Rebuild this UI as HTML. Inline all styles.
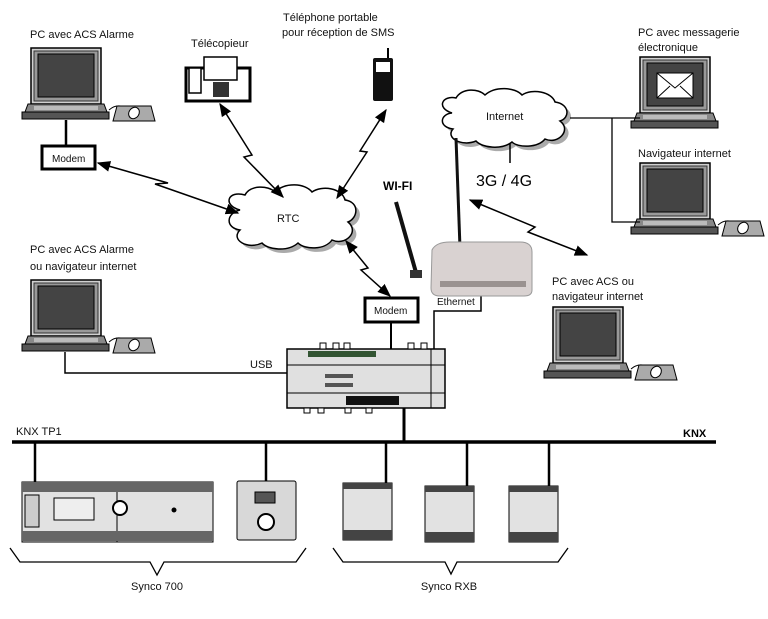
<!DOCTYPE html>
<html><head><meta charset="utf-8"><style>
html,body{margin:0;padding:0;background:#fff;}
svg{display:block;}
text{font-family:"Liberation Sans",sans-serif;font-size:11px;fill:#111;}
</style></head><body>
<svg width="768" height="619" viewBox="0 0 768 619" xmlns="http://www.w3.org/2000/svg">
<defs>
<marker id="ah" viewBox="0 0 10 10" refX="9" refY="5" markerWidth="9" markerHeight="9" orient="auto-start-reverse"><path d="M0,1 L10,5 L0,9 z" fill="#000"/></marker>
<g id="lap">
<rect x="0" y="0" width="70" height="56" fill="#d0d0d0" stroke="#000" stroke-width="1.5"/>
<rect x="3" y="3" width="64" height="50" fill="#999" stroke="#333"/>
<rect x="7" y="6" width="56" height="43" fill="#444" stroke="#000"/>
<polygon points="-3,56 73,56 76,64 -6,64" fill="#888" stroke="#000"/>
<rect x="-9" y="64" width="87" height="7" fill="#555" stroke="#000"/>
<rect x="3" y="58" width="64" height="4" fill="#bbb"/>
</g>
<g id="mouse">
<path d="M78,62 Q86,55 95,60" fill="none" stroke="#000"/>
<polygon points="86,58 120,58 124,73 82,73" fill="#aaa" stroke="#000"/>
<ellipse cx="103" cy="65" rx="5" ry="6" fill="#fff" stroke="#000" transform="rotate(35 103 65)"/>
</g>
<path id="cl1" d="M240,210 C222,205 228,190 245,195 C250,185 268,185 275,192 C285,182 305,183 312,192 C322,185 342,188 345,200 C360,202 358,218 348,222 C360,232 345,246 332,240 C325,250 305,250 298,243 C288,252 268,250 262,243 C248,250 230,240 240,230 C225,228 226,213 240,210 z"/>
<path id="cl2" d="M452,113 C436,108 442,95 456,98 C462,88 478,88 485,95 C495,86 515,87 522,95 C532,88 552,92 555,102 C570,104 570,118 560,121 C572,130 558,145 545,139 C538,148 518,148 512,142 C502,150 482,148 476,141 C462,147 445,138 453,129 C438,127 440,114 452,113 z"/>
</defs>

<text x="30" y="38">PC avec ACS Alarme</text>
<text x="191" y="47">Télécopieur</text>
<text x="283" y="21">Téléphone portable</text>
<text x="282" y="36">pour réception de SMS</text>
<text x="30" y="253">PC avec ACS Alarme</text>
<text x="30" y="270">ou navigateur internet</text>
<text x="552" y="285">PC avec ACS ou</text>
<text x="552" y="300">navigateur internet</text>
<text x="638" y="36">PC avec messagerie</text>
<text x="638" y="51">électronique</text>
<text x="638" y="157">Navigateur internet</text>
<text x="383" y="190" style="font-weight:bold;font-size:12px;fill:#000">WI-FI</text>
<text x="476" y="186" style="font-size:16px;fill:#000">3G / 4G</text>
<text x="16" y="435">KNX TP1</text>
<text x="250" y="368">USB</text>
<text x="437" y="305" style="font-size:10px">Ethernet</text>
<text x="157" y="590" text-anchor="middle">Synco 700</text>
<text x="449" y="590" text-anchor="middle">Synco RXB</text>
<text x="683" y="437" style="font-weight:bold;font-size:11px;fill:#000">KNX</text>

<use href="#lap" x="31" y="48"/><use href="#mouse" x="31" y="48"/>
<use href="#lap" x="31" y="280"/><use href="#mouse" x="31" y="280"/>
<use href="#lap" x="553" y="307"/><use href="#mouse" x="553" y="307"/>
<use href="#lap" x="640" y="57"/>
<use href="#lap" x="640" y="163"/><use href="#mouse" x="640" y="163"/>
<rect x="657" y="73" width="36" height="25" fill="#fff" stroke="#000"/>
<path d="M657,73 L675,88 L693,73 M657,98 L670,86 M693,98 L680,86" fill="none" stroke="#000"/>

<line x1="66" y1="120" x2="66" y2="145" stroke="#000" stroke-width="2.5"/>
<rect x="42" y="146" width="53" height="23" fill="#fff" stroke="#000" stroke-width="3"/>
<text x="52" y="162" style="font-size:10px">Modem</text>
<rect x="365" y="298" width="53" height="24" fill="#fff" stroke="#000" stroke-width="3"/>
<text x="374" y="314" style="font-size:10px">Modem</text>
<line x1="391" y1="323" x2="391" y2="350" stroke="#000" stroke-width="2"/>

<polyline points="65,352 65,373 290,373" fill="none" stroke="#000" stroke-width="1.5"/>
<polyline points="481,294 481,311 434,311 434,349" fill="none" stroke="#000" stroke-width="1.5"/>

<use href="#cl1" x="4" y="4" fill="#aaa"/>
<use href="#cl2" x="4" y="4" fill="#aaa"/>
<g fill="#fff" stroke="#000" stroke-width="1.5">
<use href="#cl1"/><use href="#cl2"/>
</g>
<text x="277" y="222">RTC</text>
<text x="486" y="120">Internet</text>

<polyline points="570,118 640,118" fill="none" stroke="#000" stroke-width="1.3"/>
<polyline points="612,118 612,222 640,222" fill="none" stroke="#000" stroke-width="1.3"/>
<line x1="510" y1="144" x2="510" y2="163" stroke="#000" stroke-width="1.5"/>

<rect x="186" y="68" width="64" height="33" fill="#fff" stroke="#000" stroke-width="3"/>
<rect x="204" y="57" width="33" height="23" fill="#fff" stroke="#000" stroke-width="1.5"/>
<rect x="189" y="68" width="12" height="25" fill="#fff" stroke="#000" stroke-width="1.5"/>
<rect x="213" y="82" width="16" height="15" fill="#333"/>
<line x1="388" y1="48" x2="388" y2="60" stroke="#000" stroke-width="2"/>
<rect x="373" y="58" width="20" height="43" rx="2" fill="#111"/>
<rect x="376" y="62" width="14" height="10" fill="#fff"/>

<g fill="none" stroke="#000" stroke-width="1.5" marker-start="url(#ah)" marker-end="url(#ah)">
<polyline points="98,163 168,183 155,184 238,213"/>
<polyline points="220,104 252,155 244,157 283,197"/>
<polyline points="386,110 360,151 367,152 337,198"/>
<polyline points="346,241 368,268 361,270 390,296"/>
<polyline points="470,200 535,227 528,232 587,255"/>
</g>

<line x1="396" y1="202" x2="417" y2="276" stroke="#111" stroke-width="4"/>
<line x1="456" y1="138" x2="460" y2="248" stroke="#111" stroke-width="3"/>
<rect x="410" y="270" width="12" height="8" fill="#333"/>
<path d="M432,250 Q436,242 450,242 L520,242 Q532,242 532,252 L532,290 Q532,296 524,296 L440,296 Q431,296 431,288 z" fill="#d9d2d1" stroke="#999"/>
<rect x="440" y="281" width="86" height="6" fill="#9a9290"/>

<rect x="287" y="349" width="158" height="59" fill="#e0e0e0" stroke="#000" stroke-width="1.5"/>
<line x1="287" y1="365" x2="445" y2="365" stroke="#000"/>
<line x1="287" y1="393" x2="445" y2="393" stroke="#000"/>
<line x1="431" y1="349" x2="431" y2="408" stroke="#000"/>
<rect x="308" y="351" width="68" height="6" fill="#335533"/>
<rect x="346" y="396" width="53" height="9" fill="#111"/>
<rect x="325" y="374" width="28" height="4" fill="#555"/>
<rect x="325" y="383" width="28" height="4" fill="#555"/>
<g fill="#fff" stroke="#000"><rect x="320" y="343" width="6" height="6"/><rect x="333" y="343" width="6" height="6"/><rect x="344" y="343" width="6" height="6"/><rect x="408" y="343" width="6" height="6"/><rect x="421" y="343" width="6" height="6"/>
<rect x="304" y="408" width="6" height="5"/><rect x="318" y="408" width="6" height="5"/><rect x="345" y="408" width="6" height="5"/><rect x="366" y="408" width="6" height="5"/></g>

<line x1="12" y1="442" x2="716" y2="442" stroke="#000" stroke-width="3.5"/>
<line x1="404" y1="408" x2="404" y2="442" stroke="#000" stroke-width="3"/>
<g stroke="#000" stroke-width="2.5">
<line x1="35" y1="442" x2="35" y2="482"/><line x1="266" y1="442" x2="266" y2="481"/>
<line x1="386" y1="442" x2="386" y2="484"/><line x1="467" y1="442" x2="467" y2="486"/><line x1="549" y1="442" x2="549" y2="486"/>
</g>

<rect x="22" y="482" width="95" height="60" fill="#e2e2e2" stroke="#000"/>
<rect x="117" y="482" width="96" height="60" fill="#e2e2e2" stroke="#000"/>
<rect x="22" y="482" width="191" height="10" fill="#666"/>
<rect x="22" y="531" width="191" height="10" fill="#666"/>
<rect x="25" y="495" width="14" height="32" fill="#ccc" stroke="#000"/>
<rect x="54" y="498" width="40" height="22" fill="#eee" stroke="#000"/>
<circle cx="120" cy="508" r="7" fill="#fff" stroke="#000" stroke-width="2"/>
<circle cx="174" cy="510" r="2.5" fill="#000"/>
<rect x="237" y="481" width="59" height="59" rx="2" fill="#d8d8d8" stroke="#000"/>
<rect x="255" y="492" width="20" height="11" fill="#555" stroke="#000"/>
<circle cx="266" cy="522" r="8" fill="#fff" stroke="#000" stroke-width="2"/>
<g fill="#e2e2e2" stroke="#000">
<rect x="343" y="483" width="49" height="57"/><rect x="425" y="486" width="49" height="56"/><rect x="509" y="486" width="49" height="56"/>
</g>
<g fill="#444">
<rect x="343" y="483" width="49" height="6"/><rect x="425" y="486" width="49" height="6"/><rect x="509" y="486" width="49" height="6"/>
<rect x="343" y="530" width="49" height="10"/><rect x="425" y="532" width="49" height="10"/><rect x="509" y="532" width="49" height="10"/>
</g>

<g fill="none" stroke="#000" stroke-width="1.3">
<polyline points="10,548 20,562 150,562 157,575 164,562 296,562 306,548"/>
<polyline points="333,548 343,562 445,562 451,574 457,562 558,562 568,548"/>
</g>
</svg>
</body></html>
